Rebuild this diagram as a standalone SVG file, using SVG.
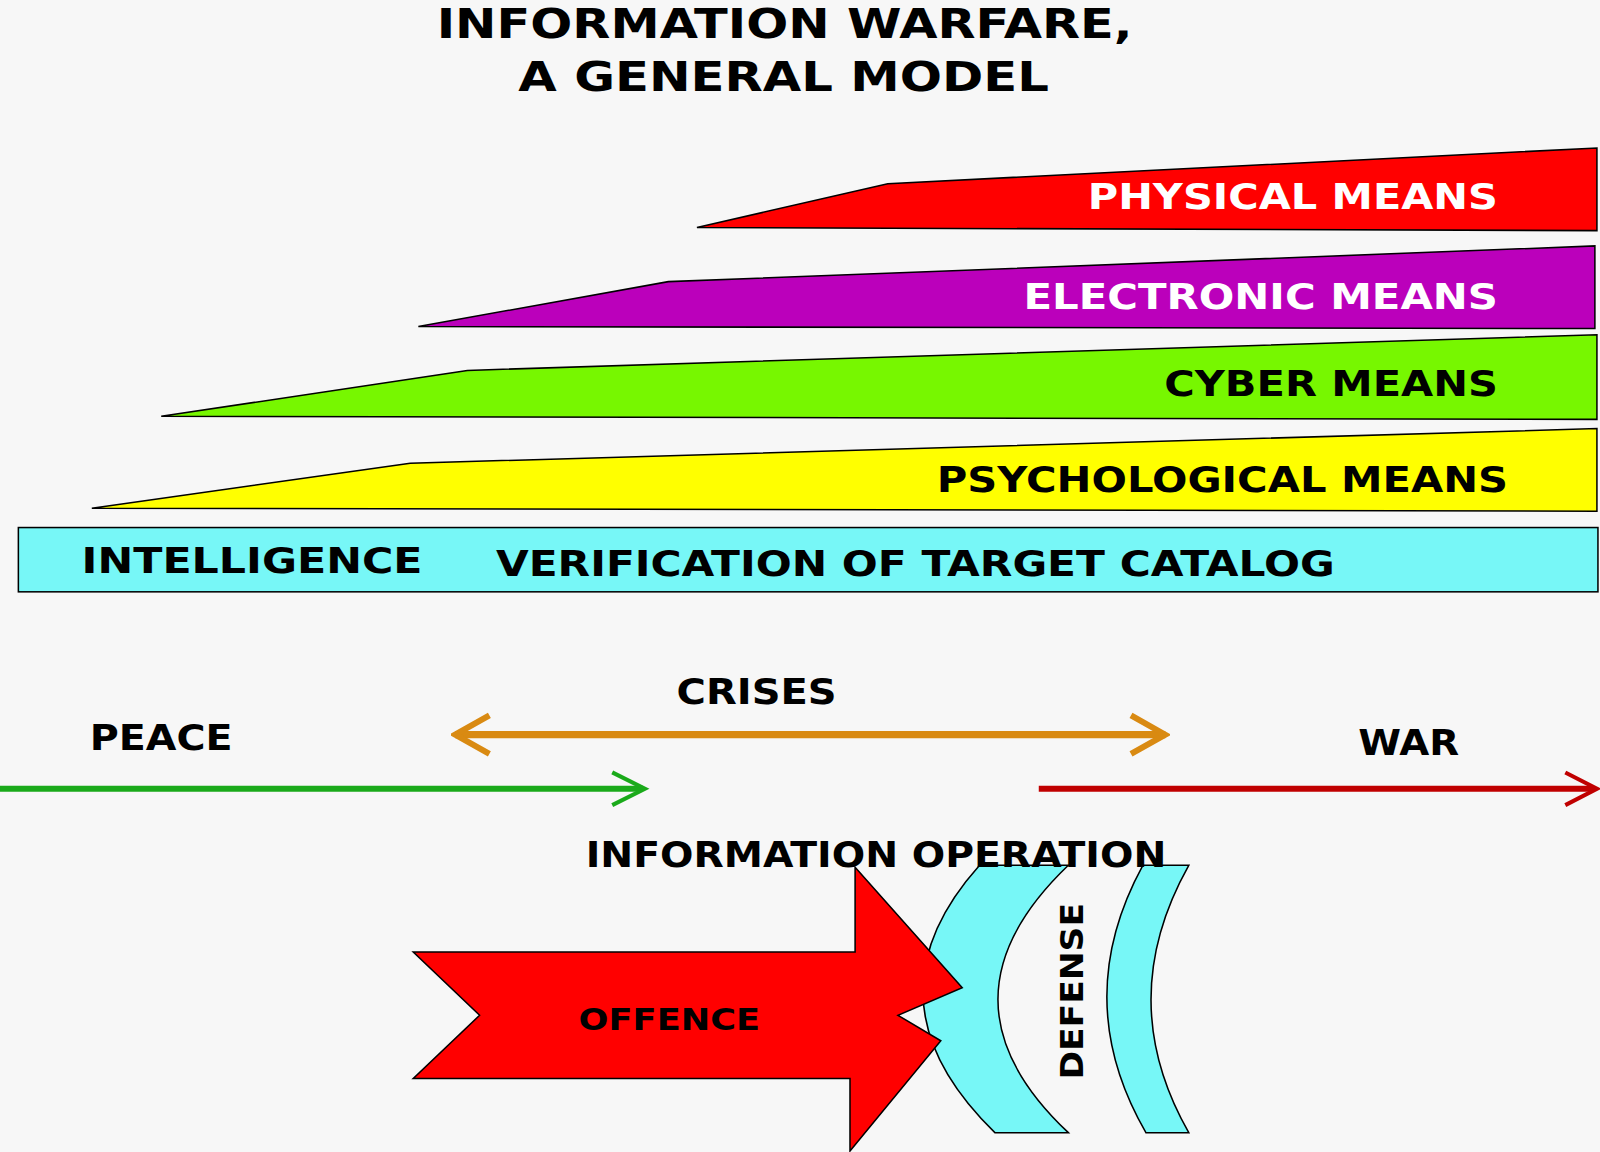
<svg xmlns="http://www.w3.org/2000/svg" width="1600" height="1152" viewBox="0 0 1600 1152">
<style>
text{font-family:"DejaVu Sans","Liberation Sans",sans-serif;font-weight:bold}
.band{stroke:#000;stroke-width:1.5}
.k{fill:#000}
.w{fill:#fff}
</style>
<defs>
<marker id="ho" viewBox="0 0 10 10" refX="9" refY="5" markerWidth="6" markerHeight="7" orient="auto-start-reverse" markerUnits="strokeWidth"><path d="M1,0.5 L9,5 L1,9.5" fill="none" stroke="#d98a12" stroke-width="1.4"/></marker>
</defs>
<rect width="1600" height="1152" fill="#f7f7f7"/>
<g transform="scale(1.0204)">
<g id="title"><text x="428" y="37" font-size="40" class="k" textLength="682" lengthAdjust="spacingAndGlyphs">INFORMATION WARFARE,</text><text x="508" y="89" font-size="40" class="k" textLength="520" lengthAdjust="spacingAndGlyphs">A GENERAL MODEL</text></g>
<g id="physical"><polygon class="band" fill="#ff0000" points="683,223 870,180 1565,145 1565,226"/><text x="1066" y="205" font-size="35" class="w" textLength="402" lengthAdjust="spacingAndGlyphs">PHYSICAL MEANS</text></g>
<g id="electronic"><polygon class="band" fill="#bb00bb" points="410,320 655,276 1563,241 1563,322"/><text x="1003" y="303" font-size="35" class="w" textLength="465" lengthAdjust="spacingAndGlyphs">ELECTRONIC MEANS</text></g>
<g id="cyber"><polygon class="band" fill="#77f700" points="158,408 458,363 1565,328 1565,411"/><text x="1141" y="388" font-size="35" class="k" textLength="327" lengthAdjust="spacingAndGlyphs">CYBER MEANS</text></g>
<g id="psychological"><polygon class="band" fill="#ffff00" points="90,498 402,454 1565,420 1565,501"/><text x="918" y="482" font-size="35" class="k" textLength="560" lengthAdjust="spacingAndGlyphs">PSYCHOLOGICAL MEANS</text></g>
<g id="intelligence"><rect class="band" x="18" y="517" width="1548" height="63" fill="#77f7f7" stroke-width="2"/><text x="80" y="562" font-size="35" class="k" textLength="334" lengthAdjust="spacingAndGlyphs">INTELLIGENCE</text><text x="486" y="564" font-size="35" class="k" textLength="822" lengthAdjust="spacingAndGlyphs">VERIFICATION OF TARGET CATALOG</text></g>
<g id="labels"><text x="663" y="690" font-size="34" class="k" textLength="157" lengthAdjust="spacingAndGlyphs">CRISES</text><text x="88" y="735" font-size="34" class="k" textLength="140" lengthAdjust="spacingAndGlyphs">PEACE</text><text x="1331" y="740" font-size="34" class="k" textLength="99" lengthAdjust="spacingAndGlyphs">WAR</text></g>
<g id="connectors" fill="none">
<line x1="446" y1="720" x2="1142" y2="720" stroke="#d98a12" stroke-width="7" marker-start="url(#ho)" marker-end="url(#ho)"/>
<line x1="0" y1="773" x2="630" y2="773" stroke="#1aaa1a" stroke-width="6"/>
<path d="M600,757 L632,773 L600,789" stroke="#1aaa1a" stroke-width="4"/>
<line x1="1018" y1="773" x2="1562" y2="773" stroke="#c00000" stroke-width="6"/>
<path d="M1534,757 L1565,773 L1534,789" stroke="#c00000" stroke-width="4"/>
</g>
<g id="defense">
<path class="band" fill="#77f7f7" stroke-width="2" d="M960,848 L1047,848 Q909,980 1047,1110 L975,1110 Q842,980 960,848 Z"/>
<path class="band" fill="#77f7f7" stroke-width="2" d="M1120,848 L1165,848 Q1091,980 1165,1110 L1123,1110 Q1048,980 1120,848 Z"/>
<text transform="translate(1061,1058) rotate(-90)" font-size="32" class="k" textLength="173" lengthAdjust="spacingAndGlyphs">DEFENSE</text>
</g>
<g id="offence"><polygon class="band" fill="#ff0000" stroke-width="2" points="405,933 838,933 838,850 943,968 880,995 922,1020 833,1128 833,1057 405,1057 470,995"/><text x="567" y="1009" font-size="30" class="k" textLength="178" lengthAdjust="spacingAndGlyphs">OFFENCE</text></g>
<g id="operation"><text x="574" y="850" font-size="34" class="k" textLength="569" lengthAdjust="spacingAndGlyphs">INFORMATION OPERATION</text></g>
</g>
</svg>
